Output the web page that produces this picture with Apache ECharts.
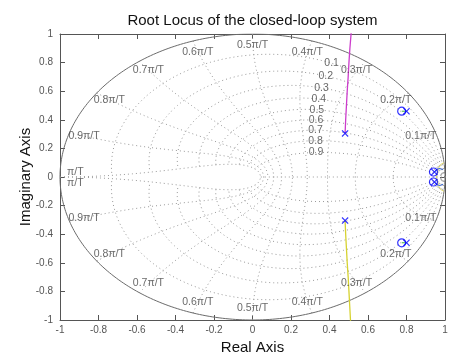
<!DOCTYPE html>
<html>
<head>
<meta charset="utf-8">
<script src="https://cdn.jsdelivr.net/npm/echarts@6/dist/echarts.min.js"></script>
<style>
html,body{margin:0;padding:0;background:#fff;}
#chart{width:474px;height:360px;}
</style>
</head>
<body>
<div id="chart"></div>
<script>
// ---- Data ----
const xTicks = [-1, -0.8, -0.6, -0.4, -0.2, 0, 0.2, 0.4, 0.6, 0.8, 1];
const yTicks = [-1, -0.8, -0.6, -0.4, -0.2, 0, 0.2, 0.4, 0.6, 0.8, 1];
const poles = [[0.481, 0.305], [0.481, -0.305], [0.80, 0.46], [0.80, -0.46], [0.945, 0.035], [0.945, -0.035]];
const zeros = [[0.775, 0.46], [0.775, -0.46], [0.94, 0.035], [0.94, -0.035]];
const branchMagenta = [[0.481, 0.305], [0.484, 0.40], [0.488, 0.50], [0.492, 0.60], [0.497, 0.70], [0.501, 0.80], [0.506, 0.90], [0.512, 1.00], [0.516, 1.08]];
const branchYellow = [[0.481, -0.305], [0.484, -0.40], [0.488, -0.50], [0.492, -0.60], [0.497, -0.70], [0.501, -0.80], [0.505, -0.90], [0.509, -1.00], [0.513, -1.08]];
const branchGreenUp = [[0.80, 0.46], [0.79, 0.455], [0.775, 0.46]];
const branchGreenDn = [[0.80, -0.46], [0.79, -0.455], [0.775, -0.46]];
const branchBlueUp = [[0.945, 0.035], [0.96, 0.055], [0.975, 0.06], [0.99, 0.05]];
const branchBlueDn = [[0.945, -0.035], [0.96, -0.055], [0.975, -0.06], [0.99, -0.05]];
const branchYelNear = [[0.955, 0.0], [0.965, 0.06], [0.98, 0.09], [0.995, 0.10]];
const branchYelNear2 = [[0.955, 0.0], [0.965, -0.06], [0.98, -0.09], [0.995, -0.10]];
const zetaValues = [0.1, 0.2, 0.3, 0.4, 0.5, 0.6, 0.7, 0.8, 0.9];
const wnValues = [1, 2, 3, 4, 5, 6, 7, 8, 9, 10];
const wnLabels = ['0.1π/T', '0.2π/T', '0.3π/T', '0.4π/T', '0.5π/T', '0.6π/T', '0.7π/T', '0.8π/T', '0.9π/T', 'π/T'];

// ---- zgrid geometry (discrete-time damping / natural frequency grid) ----
const N = 80;
function zetaCurve(z, sign) {
  const pts = [];
  const s = Math.sqrt(1 - z * z);
  for (let i = 0; i <= N; i++) {
    const w = Math.PI * i / N;
    const m = Math.exp(-z * w);
    pts.push([m * Math.cos(w * s), sign * m * Math.sin(w * s)]);
  }
  return pts;
}
function wnCurve(k, sign) {
  const wn = k * Math.PI / 10;
  const pts = [];
  for (let i = 0; i <= N; i++) {
    const z = i / N;
    const m = Math.exp(-z * wn);
    const a = wn * Math.sqrt(1 - z * z);
    pts.push([m * Math.cos(a), sign * m * Math.sin(a)]);
  }
  return pts;
}
const circle = [];
for (let i = 0; i <= 360; i++) {
  const a = i * Math.PI / 180;
  circle.push([Math.cos(a), Math.sin(a)]);
}

const gridColor = '#9a9a9a';
const dotted = { color: gridColor, width: 1, type: [1, 3] };
const series = [];
function lineS(data, style, z) {
  series.push({ type: 'line', data: data, showSymbol: false, silent: true, animation: false,
    lineStyle: style, z: z || 1, clip: true });
}
zetaValues.forEach(z => { lineS(zetaCurve(z, 1), dotted); lineS(zetaCurve(z, -1), dotted); });
wnValues.forEach(k => { lineS(wnCurve(k, 1), dotted); lineS(wnCurve(k, -1), dotted); });
lineS([[Math.exp(-Math.PI), 0], [1, 0]], dotted);
lineS(circle, { color: '#6b6b6b', width: 1 }, 2);

// Root locus branches
lineS(branchMagenta, { color: '#cc3ccc', width: 1.3 }, 5);
lineS(branchYellow, { color: '#d6d230', width: 1.3 }, 5);
lineS(branchGreenUp, { color: '#40b040', width: 1 }, 5);
lineS(branchGreenDn, { color: '#40b040', width: 1 }, 5);
lineS(branchBlueUp, { color: '#3a6ad8', width: 1 }, 5);
lineS(branchBlueDn, { color: '#3a6ad8', width: 1 }, 5);
lineS(branchYelNear, { color: '#e0d870', width: 1 }, 4);
lineS(branchYelNear2, { color: '#e0d870', width: 1 }, 4);

// Labels for grid
const labelColor = '#444';
const wnLabelData = wnValues.map((k, i) => {
  const a = k * Math.PI / 10;
  const r = 0.92;
  let y = r * Math.sin(a);
  if (k === 10) y = 0.035;
  return { value: [r * Math.cos(a), y], name: wnLabels[i] };
});
const wnLabelDataLow = wnValues.map((k, i) => {
  const a = k * Math.PI / 10;
  const r = 0.92;
  let y = -r * Math.sin(a);
  if (k === 10) y = -0.04;
  return { value: [r * Math.cos(a), y], name: wnLabels[i] };
});
const zetaLabelData = zetaValues.map(z => {
  const w = 0.35 * Math.PI;
  const m = Math.exp(-z * w);
  const a = w * Math.sqrt(1 - z * z);
  return { value: [m * Math.cos(a), m * Math.sin(a)], name: String(z) };
});
function labelS(data) {
  series.push({ type: 'scatter', data: data, symbolSize: 0, silent: true, animation: false, z: 6,
    label: { show: true, position: 'inside', formatter: p => p.name, color: labelColor,
      fontSize: 10.5, fontFamily: 'Liberation Sans, Arial, sans-serif' } });
}
labelS(wnLabelData);
labelS(wnLabelDataLow);
labelS(zetaLabelData);

// Poles and zeros
const crossPath = 'path://M0,1.2L1.2,0L5,3.8L8.8,0L10,1.2L6.2,5L10,8.8L8.8,10L5,6.2L1.2,10L0,8.8L3.8,5Z';
series.push({ type: 'scatter', data: poles, symbol: crossPath, symbolSize: 7, silent: true, animation: false, z: 8,
  itemStyle: { color: '#0000ff' } });
series.push({ type: 'scatter', data: zeros, symbol: 'circle', symbolSize: 8, silent: true, animation: false, z: 8,
  itemStyle: { color: 'rgba(0,0,0,0)', borderColor: '#0000ff', borderWidth: 1.2 } });

const axisCommon = {
  type: 'value', min: -1, max: 1, interval: 0.2,
  splitLine: { show: false },
  axisLine: { show: true, onZero: false, lineStyle: { color: '#555', width: 1 } },
  axisTick: { show: true, inside: true, length: 5, lineStyle: { color: '#555' } }
};
const tickLabel = { color: '#555', fontSize: 10, fontFamily: 'Liberation Sans, Arial, sans-serif' };
const nameStyle = { color: '#111', fontSize: 15, fontFamily: 'Liberation Sans, Arial, sans-serif' };

const chart = echarts.init(document.getElementById('chart'), null, { renderer: 'canvas' });
chart.setOption({
  animation: false,
  backgroundColor: '#fff',
  grid: { left: 60, right: 29, top: 34, bottom: 40, containLabel: false },
  graphic: [{ type: 'text', x: 252.5, y: 21, style: { text: 'Root Locus of the closed-loop system',
    fill: '#111', fontSize: 15, fontFamily: 'Liberation Sans, Arial, sans-serif', textAlign: 'center', textVerticalAlign: 'middle' } }],
  xAxis: [
    Object.assign({}, axisCommon, { position: 'bottom', name: 'Real Axis', nameLocation: 'middle', nameGap: 17,
      nameTextStyle: nameStyle, axisLabel: Object.assign({ margin: 5, formatter: v => String(+v.toFixed(1)) }, tickLabel) }),
    Object.assign({}, axisCommon, { position: 'top', axisLabel: { show: false } })
  ],
  yAxis: [
    Object.assign({}, axisCommon, { position: 'left', name: 'Imaginary Axis', nameLocation: 'middle', nameGap: 27,
      nameMoveOverlap: false,
      nameTextStyle: nameStyle, axisLabel: Object.assign({ margin: 7, formatter: v => String(+v.toFixed(1)) }, tickLabel) }),
    Object.assign({}, axisCommon, { position: 'right', axisLabel: { show: false } })
  ],
  series: series
});
</script>
</body>
</html>
